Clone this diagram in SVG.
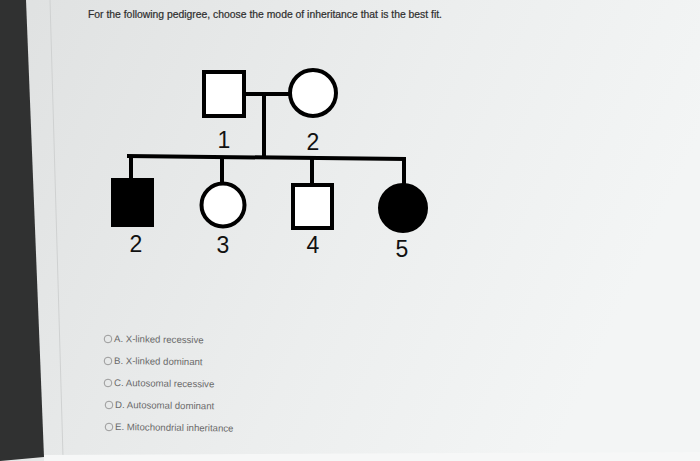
<svg xmlns="http://www.w3.org/2000/svg" width="700" height="461" viewBox="0 0 700 461">
<defs>
<linearGradient id="bg" x1="0" y1="0" x2="1" y2="0.3">
<stop offset="0" stop-color="#dfe1e1"/>
<stop offset="0.6" stop-color="#eceeee"/>
<stop offset="1" stop-color="#f3f5f5"/>
</linearGradient>
<style>
.ln{stroke:#000;stroke-width:4;fill:none}
.sym{stroke:#000;stroke-width:4;fill:#fff}
.aff{stroke:#000;stroke-width:4;fill:#000}
.num{font-family:"Liberation Sans",Arial,sans-serif;font-size:23px;fill:#111;text-anchor:middle}
.title{font-family:"Liberation Sans",Arial,sans-serif;font-size:10px;fill:#2e2e2e;stroke:#2e2e2e;stroke-width:0.2}
.opt{font-family:"Liberation Sans",Arial,sans-serif;font-size:9.6px;fill:#6a6a6a}
.radio{fill:none;stroke:#9a9a9a;stroke-width:1}
</style>
</defs>
<rect x="0" y="0" width="700" height="461" fill="url(#bg)"/>
<polygon points="0,0 26,0 44,457 0,461" fill="#303131"/>
<line x1="50" y1="0" x2="63" y2="457" stroke="#cfd1d1" stroke-width="1"/>
<polygon points="44,455 700,452 700,461 44,461" fill="#f6f7f7"/>
<text class="title" x="88" y="18" textLength="354" lengthAdjust="spacingAndGlyphs">For the following pedigree, choose the mode of inheritance that is the best fit.</text>
<g id="connectors">
<line class="ln" x1="246" y1="94" x2="289" y2="94"/>
<line class="ln" x1="264" y1="94" x2="264" y2="158"/>
<line class="ln" x1="127" y1="156" x2="406" y2="159"/>
<line class="ln" x1="131" y1="156" x2="131" y2="179"/>
<line class="ln" x1="222" y1="157" x2="222" y2="183"/>
<line class="ln" x1="312" y1="158" x2="312" y2="184"/>
<line class="ln" x1="404" y1="159" x2="404" y2="184"/>
</g>
<g id="node-father">
<rect class="sym" x="204" y="72" width="40" height="44"/>
<text class="num" x="224" y="148">1</text>
</g>
<g id="node-mother">
<circle class="sym" cx="313" cy="93" r="23"/>
<text class="num" x="313" y="150">2</text>
</g>
<g id="node-son2">
<rect class="aff" x="113" y="180" width="39" height="45"/>
<text class="num" x="136" y="252">2</text>
</g>
<g id="node-daughter3">
<circle class="sym" cx="223" cy="205" r="21.5"/>
<text class="num" x="223" y="253">3</text>
</g>
<g id="node-son4">
<rect class="sym" x="293" y="185" width="39" height="43"/>
<text class="num" x="313" y="253">4</text>
</g>
<g id="node-daughter5">
<circle class="aff" cx="403" cy="208" r="23"/>
<text class="num" x="402" y="257">5</text>
</g>
<g id="options">
<circle class="radio" cx="108" cy="339" r="3.8"/>
<text class="opt" x="114" y="342" transform="rotate(0.8 114 342)">A. X-linked recessive</text>
<circle class="radio" cx="108" cy="361" r="3.8"/>
<text class="opt" x="114" y="364" transform="rotate(0.8 114 364)">B. X-linked dominant</text>
<circle class="radio" cx="108" cy="383" r="3.8"/>
<text class="opt" x="114" y="386" transform="rotate(0.8 114 386)">C. Autosomal recessive</text>
<circle class="radio" cx="109" cy="405" r="3.8"/>
<text class="opt" x="115" y="408" transform="rotate(0.8 115 408)">D. Autosomal dominant</text>
<circle class="radio" cx="109" cy="427" r="3.8"/>
<text class="opt" x="115" y="430" transform="rotate(0.8 115 430)">E. Mitochondrial inheritance</text>
</g>
</svg>
